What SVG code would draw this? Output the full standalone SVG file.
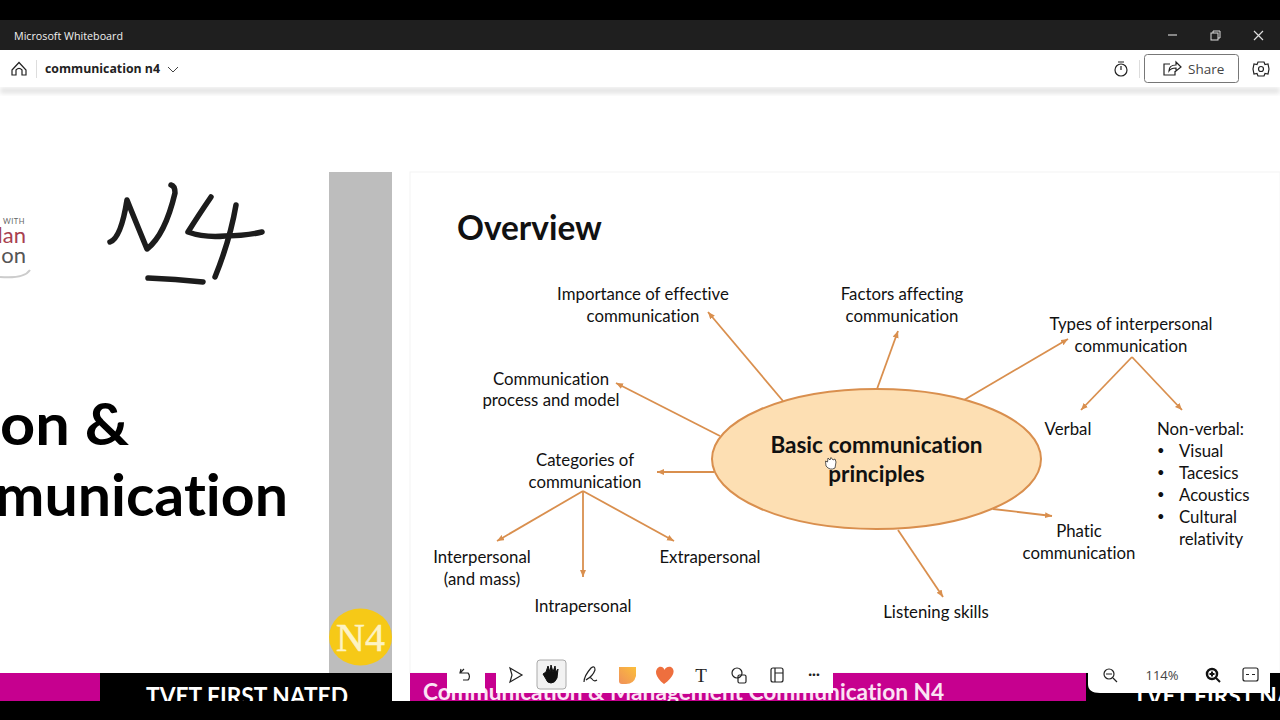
<svg xmlns="http://www.w3.org/2000/svg" width="1280" height="720" viewBox="0 0 1280 720">
<defs>
<marker id="ah" markerWidth="8" markerHeight="7" refX="7" refY="3" orient="auto" markerUnits="userSpaceOnUse"><path d="M0,0 L7,3 L0,6 Z" fill="#d98f4e"/></marker>
<filter id="sh" x="-5%" y="-50%" width="110%" height="200%"><feGaussianBlur stdDeviation="2.5"/></filter>
<linearGradient id="note" x1="1" y1="0" x2="0" y2="1"><stop offset="0" stop-color="#fbbf3b"/><stop offset="1" stop-color="#f0905a"/></linearGradient>
</defs>
<style>
text{font-family:"Lato","Carlito","Liberation Sans",sans-serif;fill:#111;font-variant-ligatures:none}
.l{font-size:16.800px;text-anchor:middle}
.b{font-size:16.800px}
.d{font-size:13px}
.ui{font-family:"Open Sans","Liberation Sans",sans-serif}
.c line{stroke:#d98f4e;stroke-width:1.800;marker-end:url(#ah)}
.ic{fill:none;stroke:#222;stroke-width:1.200}
.ink{fill:none;stroke:#1c1c1c;stroke-width:5.500;stroke-linecap:round;stroke-linejoin:round}
</style>
<rect width="1280" height="720" fill="#fff"/>

<g id="left-slide">
<rect x="0" y="172" width="329" height="501" fill="#fff"/>
<rect x="329" y="172" width="63" height="501" fill="#bdbdbd"/>
<text x="25" y="224" text-anchor="end" style="font-size:7.500px;fill:#666;letter-spacing:.5px">WITH</text>
<text x="26" y="243" text-anchor="end" style="font-size:22px;fill:#a8404f">lan</text>
<text x="26" y="263" text-anchor="end" style="font-size:22px;fill:#555">on</text>
<path d="M0,277 Q24,279 30,270" fill="none" stroke="#ccc" stroke-width="2"/>
<text x="0" y="445" style="font-size:57px;font-weight:700;fill:#000" textLength="129" lengthAdjust="spacingAndGlyphs">on &amp;</text>
<text x="-5" y="516" style="font-size:57px;font-weight:700;fill:#000" textLength="293" lengthAdjust="spacingAndGlyphs">munication</text>
<ellipse cx="360.500" cy="637" rx="31.500" ry="28.500" fill="#f6c917"/>
<text x="360.500" y="651" text-anchor="middle" style="font-family:'Liberation Serif',serif;font-size:40px;fill:#fdf3c4;stroke:#fdf3c4;stroke-width:.5">N4</text>
<rect x="0" y="673" width="100" height="28" fill="#c6008f"/>
<rect x="100" y="673" width="292" height="28" fill="#000"/>
<text x="146" y="705" style="font-size:25px;font-weight:700;fill:#fff" textLength="202" lengthAdjust="spacingAndGlyphs">TVET FIRST NATED</text>
</g>

<g id="ink">
<path class="ink" d="M110,242 Q121,238 127,200 Q133,215 147,249 Q165,235 175,193 Q175,186 171,185"/>
<path class="ink" d="M211,197 Q198,216 188,232 Q205,238 225,236 Q245,236 262,232"/>
<path class="ink" d="M236,205 Q230,240 215,277"/>
<path class="ink" d="M148,278 Q175,279 203,282"/>
</g>

<g id="main-slide">
<rect x="410" y="172" width="870" height="501" fill="#fff" stroke="#f4f4f4"/>
<text x="457" y="240" style="font-size:33.400px;font-weight:700;fill:#111">Overview</text>
<rect x="410" y="673" width="676" height="28" fill="#c6008f"/>
<rect x="1086" y="673" width="194" height="28" fill="#000"/>
<text x="423" y="700" style="font-size:22.700px;font-weight:700;fill:#fbe3f4">Communication &amp; Management Communication N4</text>
<text x="1133" y="705" style="font-size:25px;font-weight:700;fill:#fff" textLength="202" lengthAdjust="spacingAndGlyphs">TVET FIRST NATED</text>
</g>

<g id="connectors" class="c">
<line x1="783" y1="401" x2="708" y2="312"/>
<line x1="877" y1="389" x2="898" y2="331"/>
<line x1="964" y1="400" x2="1068" y2="339"/>
<line x1="720" y1="436" x2="616" y2="383"/>
<line x1="714" y1="472" x2="657" y2="472"/>
<line x1="993" y1="509" x2="1052" y2="516"/>
<line x1="898" y1="530" x2="943" y2="597"/>
<line x1="1132" y1="357" x2="1081" y2="410"/>
<line x1="1132" y1="357" x2="1182" y2="410"/>
<line x1="583" y1="491" x2="497" y2="541"/>
<line x1="583" y1="491" x2="583" y2="577"/>
<line x1="583" y1="491" x2="674" y2="541"/>
</g>

<g id="node-center">
<ellipse cx="876.500" cy="459" rx="164.500" ry="70" fill="#fddfb3" stroke="#d98f4e" stroke-width="2"/>
<text x="876.500" y="453" text-anchor="middle" style="font-size:22.500px;font-weight:700">Basic communication</text>
<text x="876.500" y="482" text-anchor="middle" style="font-size:22.500px;font-weight:700">principles</text>
</g>
<g id="node-importance"><text class="l" x="643" y="299.500">Importance of effective</text><text class="l" x="643" y="321.500">communication</text></g>
<g id="node-factors"><text class="l" x="902" y="299.500">Factors affecting</text><text class="l" x="902" y="321.500">communication</text></g>
<g id="node-types"><text class="l" x="1131" y="329.500">Types of interpersonal</text><text class="l" x="1131" y="351.500">communication</text></g>
<g id="node-process"><text class="l" x="551" y="384.500">Communication</text><text class="l" x="551" y="405.500">process and model</text></g>
<g id="node-categories"><text class="l" x="585" y="465.500">Categories of</text><text class="l" x="585" y="487.500">communication</text></g>
<g id="node-verbal"><text class="l" x="1068" y="434.500">Verbal</text></g>
<g id="node-nonverbal">
<text class="b" x="1157" y="434.500">Non-verbal:</text>
<text class="d" x="1157" y="455">•</text><text class="b" x="1179" y="456.500">Visual</text>
<text class="d" x="1157" y="477">•</text><text class="b" x="1179" y="478.500">Tacesics</text>
<text class="d" x="1157" y="499">•</text><text class="b" x="1179" y="500.500">Acoustics</text>
<text class="d" x="1157" y="521">•</text><text class="b" x="1179" y="522.500">Cultural</text>
<text class="b" x="1179" y="544.500">relativity</text>
</g>
<g id="node-phatic"><text class="l" x="1079" y="536.500">Phatic</text><text class="l" x="1079" y="558.500">communication</text></g>
<g id="node-interpersonal"><text class="l" x="482" y="562.500">Interpersonal</text><text class="l" x="482" y="584.500">(and mass)</text></g>
<g id="node-intrapersonal"><text class="l" x="583" y="611.500">Intrapersonal</text></g>
<g id="node-extrapersonal"><text class="l" x="710" y="562.500">Extrapersonal</text></g>
<g id="node-listening"><text class="l" x="936" y="617.500">Listening skills</text></g>

<g id="cursor"><path d="M826,466 L825.500,461 L827.500,462 L828,458 L830,460 L831,457.500 L833,460 L835,459 L836,462 L835,468 Q830,471 826,466 Z" fill="#fff" stroke="#333" stroke-width=".8"/></g>

<g id="toolbar">
<rect x="447" y="657" width="38" height="36" fill="#fff"/>
<rect x="496" y="657" width="337" height="36" fill="#fff"/>
<path class="ic" d="M461,671 L460,675 H468 A5,5 0 0 1 468,682 H463 M460,675 L464,671" transform="translate(0,-2)"/>
<path class="ic" d="M510,668 L522,675 L510,682 L512,675 Z"/>
<rect x="537" y="660" width="29" height="29" rx="3" fill="#f2f2f2" stroke="#aaa"/>
<path d="M546,672 L548,666 L550,672 L551,665 L553,672 L555,666 L556,672 L558,669 L557,678 Q555,683 551,683 Q547,683 546,679 L543,674 Z" fill="#111" stroke="#111"/>
<path class="ic" d="M584,682 Q584,676 591,668 Q595,665 595,670 Q593,676 586,680 Q590,676 592,679 Q594,682 597,680"/>
<path d="M619,667 H636 V676 Q634,684 626,684 H622 Q619,684 619,681 Z" fill="url(#note)"/>
<path d="M664,684 C655,677 654,670 659,667 C662,666 664,668 664.500,670 C665,668 668,666 671,667 C676,670 674,677 664,684 Z" fill="#ee6f3e"/>
<text x="701" y="682" text-anchor="middle" style="font-family:'Liberation Serif',serif;font-size:19px;fill:#222">T</text>
<circle class="ic" cx="737" cy="673" r="5"/><rect class="ic" x="738" y="675" width="8" height="8" rx="1.500" fill="#fff"/>
<rect class="ic" x="771" y="668" width="12" height="14" rx="2"/><path class="ic" d="M775,668 V682 M775,673 H783"/>
<text x="814" y="679" text-anchor="middle" style="font-size:14px;font-weight:700;fill:#222">···</text>
</g>
<g id="zoombar">
<path d="M1088,657 H1270 V693 H1100 Q1088,693 1088,684 Z" fill="#fff"/>
<circle class="ic" cx="1109" cy="674" r="5"/><path class="ic" d="M1106,674 H1112 M1113,678 L1117,682"/>
<text class="ui" x="1162" y="680" text-anchor="middle" style="font-size:13px;fill:#444">114%</text>
<circle cx="1212" cy="674" r="5" fill="#fff" stroke="#111" stroke-width="2.500"/><path d="M1209.500,674 H1214.500 M1212,671.500 V676.500 M1216,678 L1220,682" stroke="#111" stroke-width="2"/>
<rect class="ic" x="1243" y="668" width="15" height="13" rx="2"/><path class="ic" d="M1246,674.500 H1249 M1252,674.500 H1255"/>
</g>

<g id="app-chrome">
<rect x="0" y="701" width="1280" height="19" fill="#000"/>
<rect x="0" y="88" width="1280" height="5" fill="#000" opacity=".13" filter="url(#sh)"/>
<rect x="0" y="50" width="1280" height="37" fill="#fff"/>
<rect x="0" y="0" width="1280" height="20" fill="#000"/>
<rect x="0" y="20" width="1280" height="30" fill="#1f1f1f"/>
<text class="ui" x="14" y="39.500" style="font-size:11.500px;fill:#f0f0f0" textLength="109" lengthAdjust="spacingAndGlyphs">Microsoft Whiteboard</text>
<path d="M1168,35 H1177" stroke="#aaa" stroke-width="1.500"/>
<rect x="1211" y="33" width="7" height="7" fill="none" stroke="#ddd"/><path d="M1213,33 V31 H1220 V38 H1218" fill="none" stroke="#ddd"/>
<path d="M1254,31 L1263,40 M1263,31 L1254,40" stroke="#ddd" stroke-width="1.200"/>
<path class="ic" d="M12,70 L19,62.500 L26,70 V75 H22 V70 Q19,67 16,70 V75 H12 Z"/>
<rect x="36" y="60" width="1" height="18" fill="#ddd"/>
<text class="ui" x="45" y="73" style="font-size:12.500px;font-weight:700;fill:#222" textLength="115" lengthAdjust="spacingAndGlyphs">communication n4</text>
<path d="M168,67 L173,72 L178,67" fill="none" stroke="#444"/>
<circle class="ic" cx="1121" cy="70" r="6"/><path class="ic" d="M1118,62 H1124 M1121,66 V70"/>
<rect x="1139" y="60" width="1" height="18" fill="#ddd"/>
<rect x="1144.500" y="54.500" width="94" height="28" rx="3" fill="#fff" stroke="#777"/>
<path class="ic" d="M1170,64 H1164 V75 H1175 V71 M1169,71 Q1169,65 1176,65 V62 L1181,67 L1176,71 V68 Q1171,68 1169,71 Z"/>
<text class="ui" x="1188" y="74" style="font-size:13.500px;fill:#444">Share</text>
<circle class="ic" cx="1261" cy="69" r="2.500"/><path class="ic" d="M1258,62 L1264,62 L1265,64.500 L1268,64 L1269,69 L1268,74 L1265,73.500 L1264,76 L1258,76 L1257,73.500 L1254,74 L1253,69 L1254,64 L1257,64.500 Z"/>
</g>
</svg>
